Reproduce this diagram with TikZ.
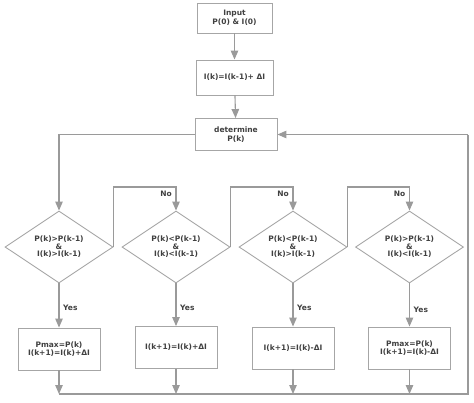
\documentclass[tikz,border=0pt]{standalone}
\usepackage{fontspec}
\setmainfont{DejaVu Sans}
\usetikzlibrary{shapes.geometric,arrows.meta}
\definecolor{lncol}{HTML}{9A9A9A}
\definecolor{bxcol}{HTML}{A6A6A6}
\definecolor{txcol}{HTML}{404040}
\begin{document}
\begin{tikzpicture}[x=1pt,y=-1pt,
  font=\fontsize{7.5}{8.6}\selectfont\bfseries, text=txcol,
  box/.style={draw=bxcol, line width=0.9pt, rectangle, minimum width=82pt, minimum height=42pt, inner sep=0pt, align=center},
  dia/.style={draw=bxcol, line width=0.9pt, diamond, minimum width=108pt, minimum height=72pt, inner sep=0pt, align=center, font=\fontsize{7.5}{7.6}\selectfont\bfseries},
  arr/.style={draw=lncol, line width=1.1pt, -{Triangle[width=7.5pt,length=9pt,fill=lncol]}},
  lnk/.style={draw=lncol, line width=1.1pt},
  lbl/.style={inner sep=0pt}]
\useasboundingbox (0,0) rectangle (474,402);
% top boxes
\node[box, minimum width=75pt, minimum height=30pt] (in) at (234.5,18) {Input\\P(0) \& I(0)};
\node[box, minimum width=77pt, minimum height=35pt] (inc) at (234.5,77.5) {I(k)=I(k-1)+ ΔI};
\node[box, minimum width=82pt, minimum height=32pt] (det) at (236,134.5) {determine\\P(k)};
% diamonds
\node[dia] (d1) at (59,247) {P(k)>P(k-1)\\\&\\I(k)>I(k-1)};
\node[dia] (d2) at (176,247) {P(k)<P(k-1)\\\&\\I(k)<I(k-1)};
\node[dia] (d3) at (293,247) {P(k)<P(k-1)\\\&\\I(k)>I(k-1)};
\node[dia] (d4) at (409.5,247) {P(k)>P(k-1)\\\&\\I(k)<I(k-1)};
% action boxes
\node[box] (b1) at (59,349) {Pmax=P(k)\\I(k+1)=I(k)+ΔI};
\node[box] (b2) at (176,347.5) {I(k+1)=I(k)+ΔI};
\node[box] (b3) at (293,348) {I(k+1)=I(k)-ΔI};
\node[box] (b4) at (409.5,348) {Pmax=P(k)\\I(k+1)=I(k)-ΔI};
% helper coordinates
\coordinate (n2) at (176,187);
\coordinate (n3) at (293,187);
\coordinate (n4) at (409.5,187);
\coordinate (c1) at (59,394);
\coordinate (c2) at (176,394);
\coordinate (c3) at (293,394);
\coordinate (c4) at (409.5,394);
\coordinate (cr) at (468,394);
\coordinate (crt) at (468,134.5);
% connectors
\draw[arr] (in) -- (inc);
\draw[arr] (inc) -- (det);
\draw[arr] (det.west) -| (d1.north);
\draw[arr] (d1.east) |- (n2) -- (d2.north);
\draw[arr] (d2.east) |- (n3) -- (d3.north);
\draw[arr] (d3.east) |- (n4) -- (d4.north);
\draw[arr] (d1.south) -- (b1.north);
\draw[arr] (d2.south) -- (b2.north);
\draw[arr] (d3.south) -- (b3.north);
\draw[arr] (d4.south) -- (b4.north);
\draw[arr] (b1.south) -- (c1);
\draw[arr] (b2.south) -- (c2);
\draw[arr] (b3.south) -- (c3);
\draw[arr] (b4.south) -- (c4);
\draw[lnk] (c1) -- (cr) -- (crt);
\draw[arr] (crt) -- (det.east);
% labels
\node[lbl, anchor=east] (no2) at (172,194) {No};
\node[lbl, anchor=east] (no3) at (289,194) {No};
\node[lbl, anchor=east] (no4) at (405.5,194) {No};
\node[lbl, anchor=west] (y1) at (63,308) {Yes};
\node[lbl, anchor=west] (y2) at (180,308) {Yes};
\node[lbl, anchor=west] (y3) at (297,308) {Yes};
\node[lbl, anchor=west] (y4) at (413.5,310) {Yes};
\end{tikzpicture}
\end{document}
